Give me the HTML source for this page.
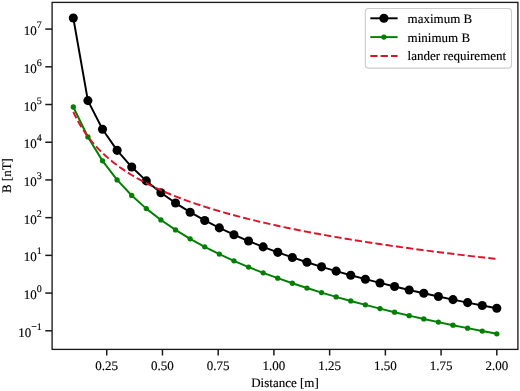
<!DOCTYPE html>
<html><head><meta charset="utf-8"><title>B vs Distance</title>
<style>html,body{margin:0;padding:0;background:#fff}body{width:520px;height:391px;overflow:hidden}.t{font-family:"Liberation Serif","Times New Roman",serif;text-rendering:geometricPrecision;fill:#000;stroke:#000;stroke-width:0.15px}</style></head>
<body>
<svg width="520" height="391" viewBox="0 0 520 391" style="display:block">
<rect width="520" height="391" fill="#fff"/>
<polyline points="73.30,18.00 87.90,100.61 102.51,129.26 117.11,150.33 131.72,167.04 146.32,180.89 160.92,192.72 175.53,203.05 190.13,212.20 204.73,220.43 219.34,227.89 233.94,234.73 248.55,241.03 263.15,246.88 277.75,252.34 292.36,257.45 306.96,262.27 321.56,266.83 336.17,271.15 350.77,275.26 365.38,279.18 379.98,282.93 394.58,286.52 409.19,289.98 423.79,293.30 438.39,296.51 453.00,299.60 467.60,302.60 482.21,305.51 496.81,308.32" fill="none" stroke="#000" stroke-width="1.95" stroke-linejoin="round"/>
<circle cx="73.30" cy="18.00" r="4.55" fill="#000"/>
<circle cx="87.90" cy="100.61" r="4.55" fill="#000"/>
<circle cx="102.51" cy="129.26" r="4.55" fill="#000"/>
<circle cx="117.11" cy="150.33" r="4.55" fill="#000"/>
<circle cx="131.72" cy="167.04" r="4.55" fill="#000"/>
<circle cx="146.32" cy="180.89" r="4.55" fill="#000"/>
<circle cx="160.92" cy="192.72" r="4.55" fill="#000"/>
<circle cx="175.53" cy="203.05" r="4.55" fill="#000"/>
<circle cx="190.13" cy="212.20" r="4.55" fill="#000"/>
<circle cx="204.73" cy="220.43" r="4.55" fill="#000"/>
<circle cx="219.34" cy="227.89" r="4.55" fill="#000"/>
<circle cx="233.94" cy="234.73" r="4.55" fill="#000"/>
<circle cx="248.55" cy="241.03" r="4.55" fill="#000"/>
<circle cx="263.15" cy="246.88" r="4.55" fill="#000"/>
<circle cx="277.75" cy="252.34" r="4.55" fill="#000"/>
<circle cx="292.36" cy="257.45" r="4.55" fill="#000"/>
<circle cx="306.96" cy="262.27" r="4.55" fill="#000"/>
<circle cx="321.56" cy="266.83" r="4.55" fill="#000"/>
<circle cx="336.17" cy="271.15" r="4.55" fill="#000"/>
<circle cx="350.77" cy="275.26" r="4.55" fill="#000"/>
<circle cx="365.38" cy="279.18" r="4.55" fill="#000"/>
<circle cx="379.98" cy="282.93" r="4.55" fill="#000"/>
<circle cx="394.58" cy="286.52" r="4.55" fill="#000"/>
<circle cx="409.19" cy="289.98" r="4.55" fill="#000"/>
<circle cx="423.79" cy="293.30" r="4.55" fill="#000"/>
<circle cx="438.39" cy="296.51" r="4.55" fill="#000"/>
<circle cx="453.00" cy="299.60" r="4.55" fill="#000"/>
<circle cx="467.60" cy="302.60" r="4.55" fill="#000"/>
<circle cx="482.21" cy="305.51" r="4.55" fill="#000"/>
<circle cx="496.81" cy="308.32" r="4.55" fill="#000"/>
<polyline points="73.30,107.01 87.90,136.95 102.51,160.87 117.11,179.88 131.72,195.46 146.32,208.61 160.92,219.95 175.53,229.92 190.13,238.80 204.73,246.82 219.34,254.12 233.94,260.83 248.55,267.03 263.15,272.80 277.75,278.20 292.36,283.27 306.96,288.05 321.56,292.58 336.17,296.88 350.77,300.97 365.38,304.87 379.98,308.61 394.58,312.19 409.19,315.63 423.79,318.93 438.39,322.12 453.00,325.19 467.60,328.16 482.21,331.03 496.81,333.81" fill="none" stroke="#008000" stroke-width="1.95" stroke-linejoin="round"/>
<circle cx="73.30" cy="107.01" r="2.65" fill="#008000"/>
<circle cx="87.90" cy="136.95" r="2.65" fill="#008000"/>
<circle cx="102.51" cy="160.87" r="2.65" fill="#008000"/>
<circle cx="117.11" cy="179.88" r="2.65" fill="#008000"/>
<circle cx="131.72" cy="195.46" r="2.65" fill="#008000"/>
<circle cx="146.32" cy="208.61" r="2.65" fill="#008000"/>
<circle cx="160.92" cy="219.95" r="2.65" fill="#008000"/>
<circle cx="175.53" cy="229.92" r="2.65" fill="#008000"/>
<circle cx="190.13" cy="238.80" r="2.65" fill="#008000"/>
<circle cx="204.73" cy="246.82" r="2.65" fill="#008000"/>
<circle cx="219.34" cy="254.12" r="2.65" fill="#008000"/>
<circle cx="233.94" cy="260.83" r="2.65" fill="#008000"/>
<circle cx="248.55" cy="267.03" r="2.65" fill="#008000"/>
<circle cx="263.15" cy="272.80" r="2.65" fill="#008000"/>
<circle cx="277.75" cy="278.20" r="2.65" fill="#008000"/>
<circle cx="292.36" cy="283.27" r="2.65" fill="#008000"/>
<circle cx="306.96" cy="288.05" r="2.65" fill="#008000"/>
<circle cx="321.56" cy="292.58" r="2.65" fill="#008000"/>
<circle cx="336.17" cy="296.88" r="2.65" fill="#008000"/>
<circle cx="350.77" cy="300.97" r="2.65" fill="#008000"/>
<circle cx="365.38" cy="304.87" r="2.65" fill="#008000"/>
<circle cx="379.98" cy="308.61" r="2.65" fill="#008000"/>
<circle cx="394.58" cy="312.19" r="2.65" fill="#008000"/>
<circle cx="409.19" cy="315.63" r="2.65" fill="#008000"/>
<circle cx="423.79" cy="318.93" r="2.65" fill="#008000"/>
<circle cx="438.39" cy="322.12" r="2.65" fill="#008000"/>
<circle cx="453.00" cy="325.19" r="2.65" fill="#008000"/>
<circle cx="467.60" cy="328.16" r="2.65" fill="#008000"/>
<circle cx="482.21" cy="331.03" r="2.65" fill="#008000"/>
<circle cx="496.81" cy="333.81" r="2.65" fill="#008000"/>
<polyline points="73.30,111.83 75.43,116.31 77.56,120.41 79.68,124.20 81.81,127.72 83.94,131.00 86.07,134.08 88.20,136.98 90.33,139.71 92.45,142.30 94.58,144.76 96.71,147.10 98.84,149.34 100.97,151.48 103.09,153.53 105.22,155.50 107.35,157.39 109.48,159.21 111.61,160.97 113.74,162.66 115.86,164.30 117.99,165.89 120.12,167.42 122.25,168.91 124.38,170.36 126.50,171.77 128.63,173.13 130.76,174.46 132.89,175.75 135.02,177.02 137.15,178.24 139.27,179.44 141.40,180.61 143.53,181.76 145.66,182.88 147.79,183.97 149.91,185.04 152.04,186.08 154.17,187.11 156.30,188.11 158.43,189.09 160.56,190.06 162.68,191.00 164.81,191.93 166.94,192.84 169.07,193.73 171.20,194.61 173.32,195.47 175.45,196.32 177.58,197.15 179.71,197.97 181.84,198.78 183.97,199.57 186.09,200.35 188.22,201.12 190.35,201.88 192.48,202.62 194.61,203.36 196.74,204.08 198.86,204.79 200.99,205.49 203.12,206.18 205.25,206.87 207.38,207.54 209.50,208.20 211.63,208.86 213.76,209.51 215.89,210.15 218.02,210.78 220.15,211.40 222.27,212.01 224.40,212.62 226.53,213.22 228.66,213.81 230.79,214.40 232.91,214.97 235.04,215.54 237.17,216.11 239.30,216.67 241.43,217.22 243.56,217.77 245.68,218.31 247.81,218.84 249.94,219.37 252.07,219.89 254.20,220.41 256.32,220.92 258.45,221.43 260.58,221.93 262.71,222.43 264.84,222.92 266.97,223.40 269.09,223.89 271.22,224.36 273.35,224.84 275.48,225.30 277.61,225.77 279.73,226.23 281.86,226.68 283.99,227.13 286.12,227.58 288.25,228.02 290.38,228.46 292.50,228.90 294.63,229.33 296.76,229.75 298.89,230.18 301.02,230.60 303.14,231.01 305.27,231.43 307.40,231.84 309.53,232.24 311.66,232.65 313.79,233.04 315.91,233.44 318.04,233.83 320.17,234.22 322.30,234.61 324.43,235.00 326.55,235.38 328.68,235.75 330.81,236.13 332.94,236.50 335.07,236.87 337.20,237.24 339.32,237.60 341.45,237.96 343.58,238.32 345.71,238.68 347.84,239.03 349.96,239.38 352.09,239.73 354.22,240.08 356.35,240.42 358.48,240.76 360.61,241.10 362.73,241.44 364.86,241.77 366.99,242.10 369.12,242.43 371.25,242.76 373.37,243.09 375.50,243.41 377.63,243.73 379.76,244.05 381.89,244.37 384.02,244.68 386.14,245.00 388.27,245.31 390.40,245.62 392.53,245.92 394.66,246.23 396.79,246.53 398.91,246.83 401.04,247.13 403.17,247.43 405.30,247.73 407.43,248.02 409.55,248.31 411.68,248.60 413.81,248.89 415.94,249.18 418.07,249.47 420.20,249.75 422.32,250.03 424.45,250.31 426.58,250.59 428.71,250.87 430.84,251.15 432.96,251.42 435.09,251.69 437.22,251.96 439.35,252.23 441.48,252.50 443.61,252.77 445.73,253.04 447.86,253.30 449.99,253.56 452.12,253.82 454.25,254.08 456.37,254.34 458.50,254.60 460.63,254.86 462.76,255.11 464.89,255.36 467.02,255.62 469.14,255.87 471.27,256.12 473.40,256.36 475.53,256.61 477.66,256.86 479.78,257.10 481.91,257.34 484.04,257.59 486.17,257.83 488.30,258.07 490.43,258.31 492.55,258.54 494.68,258.78 496.81,259.01" fill="none" stroke="#dc1428" stroke-width="1.95" stroke-dasharray="7.23 3.13"/>
<rect x="52.1" y="2.4" width="465.79999999999995" height="347.0" fill="none" stroke="#1a1a1a" stroke-width="1.35"/>
<line x1="106.73" y1="349.4" x2="106.73" y2="355.5" stroke="#1a1a1a" stroke-width="1.5"/>
<text x="106.73" y="369.8" text-anchor="middle" class="t" font-size="13">0.25</text>
<line x1="162.46" y1="349.4" x2="162.46" y2="355.5" stroke="#1a1a1a" stroke-width="1.5"/>
<text x="162.46" y="369.8" text-anchor="middle" class="t" font-size="13">0.50</text>
<line x1="218.19" y1="349.4" x2="218.19" y2="355.5" stroke="#1a1a1a" stroke-width="1.5"/>
<text x="218.19" y="369.8" text-anchor="middle" class="t" font-size="13">0.75</text>
<line x1="273.91" y1="349.4" x2="273.91" y2="355.5" stroke="#1a1a1a" stroke-width="1.5"/>
<text x="273.91" y="369.8" text-anchor="middle" class="t" font-size="13">1.00</text>
<line x1="329.63" y1="349.4" x2="329.63" y2="355.5" stroke="#1a1a1a" stroke-width="1.5"/>
<text x="329.63" y="369.8" text-anchor="middle" class="t" font-size="13">1.25</text>
<line x1="385.36" y1="349.4" x2="385.36" y2="355.5" stroke="#1a1a1a" stroke-width="1.5"/>
<text x="385.36" y="369.8" text-anchor="middle" class="t" font-size="13">1.50</text>
<line x1="441.08" y1="349.4" x2="441.08" y2="355.5" stroke="#1a1a1a" stroke-width="1.5"/>
<text x="441.08" y="369.8" text-anchor="middle" class="t" font-size="13">1.75</text>
<line x1="496.81" y1="349.4" x2="496.81" y2="355.5" stroke="#1a1a1a" stroke-width="1.5"/>
<text x="496.81" y="369.8" text-anchor="middle" class="t" font-size="13">2.00</text>
<line x1="45.300000000000004" y1="330.78" x2="52.1" y2="330.78" stroke="#1a1a1a" stroke-width="1.5"/>
<text x="41.8" y="336.78" text-anchor="end" class="t" font-size="13">10<tspan font-size="10" dy="-7">−1</tspan></text>
<line x1="45.300000000000004" y1="293.07" x2="52.1" y2="293.07" stroke="#1a1a1a" stroke-width="1.5"/>
<text x="41.8" y="299.07" text-anchor="end" class="t" font-size="13">10<tspan font-size="10" dy="-7">0</tspan></text>
<line x1="45.300000000000004" y1="255.36" x2="52.1" y2="255.36" stroke="#1a1a1a" stroke-width="1.5"/>
<text x="41.8" y="261.36" text-anchor="end" class="t" font-size="13">10<tspan font-size="10" dy="-7">1</tspan></text>
<line x1="45.300000000000004" y1="217.65" x2="52.1" y2="217.65" stroke="#1a1a1a" stroke-width="1.5"/>
<text x="41.8" y="223.65" text-anchor="end" class="t" font-size="13">10<tspan font-size="10" dy="-7">2</tspan></text>
<line x1="45.300000000000004" y1="179.94" x2="52.1" y2="179.94" stroke="#1a1a1a" stroke-width="1.5"/>
<text x="41.8" y="185.94" text-anchor="end" class="t" font-size="13">10<tspan font-size="10" dy="-7">3</tspan></text>
<line x1="45.300000000000004" y1="142.23" x2="52.1" y2="142.23" stroke="#1a1a1a" stroke-width="1.5"/>
<text x="41.8" y="148.23" text-anchor="end" class="t" font-size="13">10<tspan font-size="10" dy="-7">4</tspan></text>
<line x1="45.300000000000004" y1="104.52" x2="52.1" y2="104.52" stroke="#1a1a1a" stroke-width="1.5"/>
<text x="41.8" y="110.52" text-anchor="end" class="t" font-size="13">10<tspan font-size="10" dy="-7">5</tspan></text>
<line x1="45.300000000000004" y1="66.81" x2="52.1" y2="66.81" stroke="#1a1a1a" stroke-width="1.5"/>
<text x="41.8" y="72.81" text-anchor="end" class="t" font-size="13">10<tspan font-size="10" dy="-7">6</tspan></text>
<line x1="45.300000000000004" y1="29.10" x2="52.1" y2="29.10" stroke="#1a1a1a" stroke-width="1.5"/>
<text x="41.8" y="35.10" text-anchor="end" class="t" font-size="13">10<tspan font-size="10" dy="-7">7</tspan></text>
<text x="285" y="386.8" text-anchor="middle" class="t" font-size="13">Distance [m]</text>
<text transform="translate(11.3,175.6) rotate(-90)" text-anchor="middle" class="t" font-size="13">B [nT]</text>
<rect x="365.3" y="8.5" width="146.2" height="59.6" rx="3" fill="#fff" fill-opacity="0.8" stroke="#ccc" stroke-width="1.1"/>
<line x1="370.3" y1="18.3" x2="397.6" y2="18.3" stroke="#000" stroke-width="1.95"/><circle cx="383.9" cy="18.3" r="4.55" fill="#000"/>
<line x1="370.3" y1="37.1" x2="397.6" y2="37.1" stroke="#008000" stroke-width="1.95"/><circle cx="383.9" cy="37.1" r="2.65" fill="#008000"/>
<line x1="370.3" y1="55.9" x2="397.6" y2="55.9" stroke="#dc1428" stroke-width="1.95" stroke-dasharray="7.23 3.13"/>
<text x="407.6" y="22.80" class="t" font-size="13">maximum B</text>
<text x="407.6" y="41.60" class="t" font-size="13">minimum B</text>
<text x="407.6" y="60.40" class="t" font-size="13">lander requirement</text>
</svg>
</body></html>
